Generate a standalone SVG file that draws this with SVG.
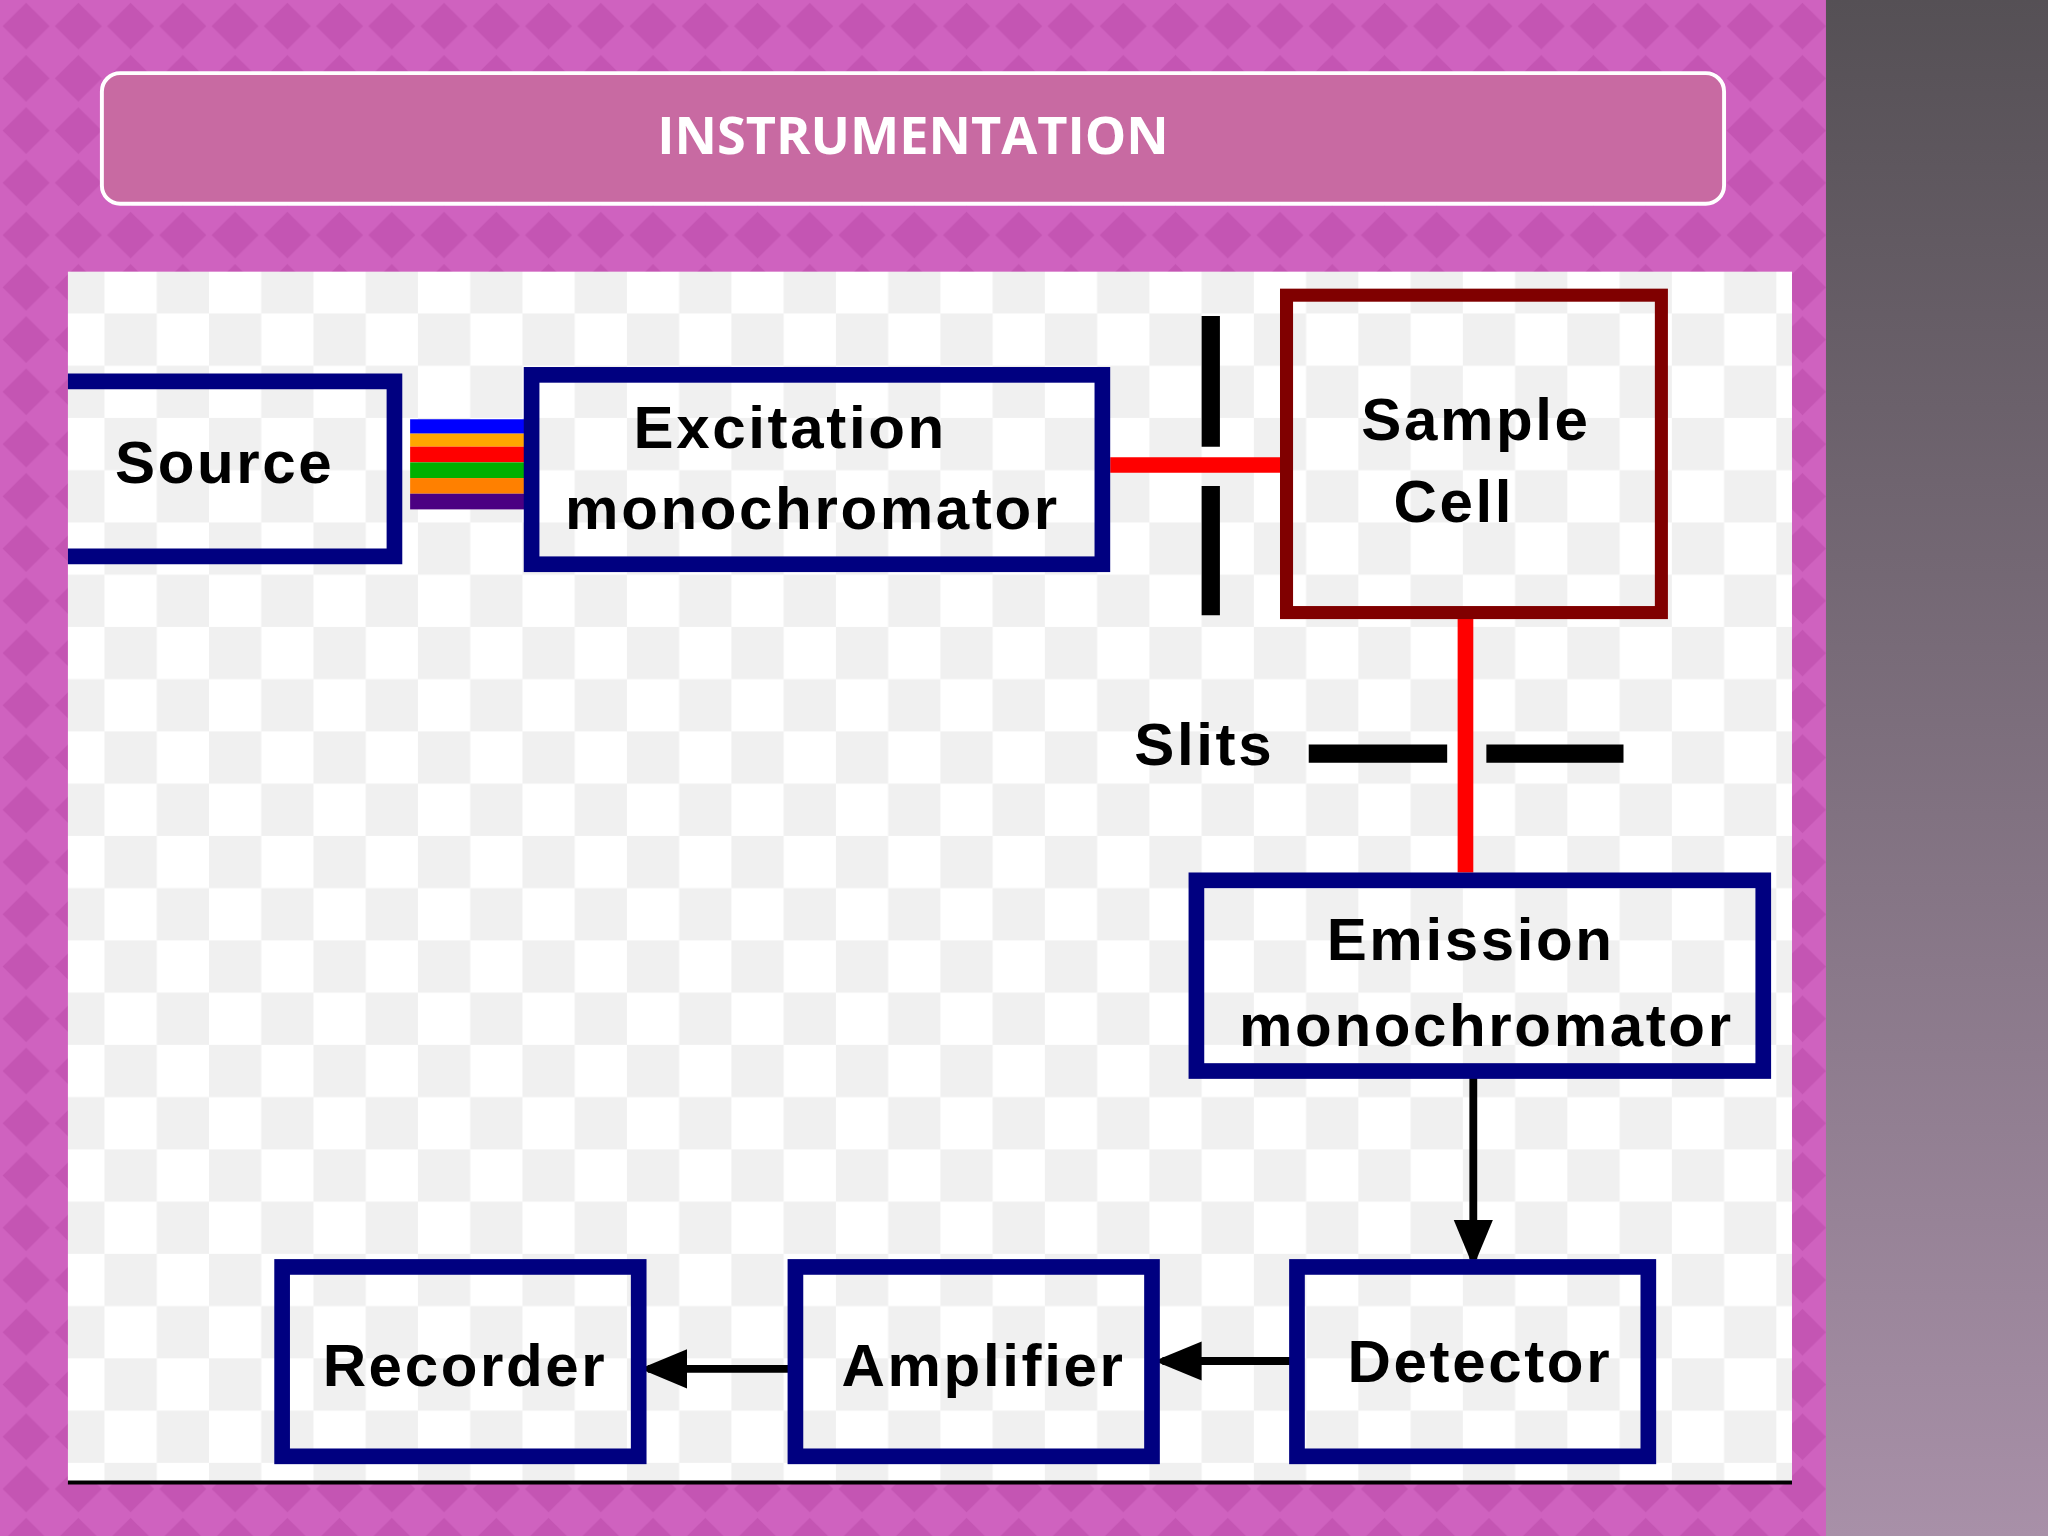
<svg xmlns="http://www.w3.org/2000/svg" width="2048" height="1536" viewBox="0 0 2048 1536">
<defs>
<pattern id="dia" width="40" height="40" patternUnits="userSpaceOnUse"><rect width="40" height="40" fill="#cf62bf"/><path d="M20 2 L38 20 L20 38 L2 20Z" fill="#c455b3"/></pattern>
<pattern id="chk" width="80" height="80" patternUnits="userSpaceOnUse"><rect width="80" height="80" fill="#ffffff"/><rect width="40" height="40" fill="#f0f0f0"/><rect x="40" y="40" width="40" height="40" fill="#f0f0f0"/></pattern>
<linearGradient id="gr" x1="0" y1="0" x2="0" y2="1"><stop offset="0" stop-color="#555055"/><stop offset="1" stop-color="#a890a8"/></linearGradient>
<marker id="ah" markerWidth="6" markerHeight="6" refX="5" refY="3" orient="auto" markerUnits="strokeWidth"><path d="M0 0.5 L6 3 L0 5.5Z" fill="#000"/></marker>
<style>
.box{fill:none;stroke:#000080;stroke-width:12}
.t{font-family:"Liberation Sans",Arial,sans-serif;font-weight:bold;font-size:46px;fill:#000;letter-spacing:2px;text-anchor:middle}
</style>
</defs>
<g transform="scale(1.30612)">
<rect width="1568" height="1176" fill="url(#dia)"/>
<rect x="1398" width="170" height="1176" fill="url(#gr)"/>
<g id="title"><rect x="78" y="56" width="1242" height="100" rx="14" fill="#c86aa2" stroke="#fff" stroke-width="3"/>
<text x="699" y="118" font-family="'Open Sans','Liberation Sans',sans-serif" font-size="40" font-weight="bold" fill="#fff" text-anchor="middle">INSTRUMENTATION</text></g>
<rect x="52" y="208" width="1320" height="927" fill="url(#chk)"/>
<line x1="52" y1="1135" x2="1372" y2="1135" stroke="#000" stroke-width="3"/>
<g id="connectors">
<rect x="314" y="321" width="88" height="11" fill="#0000ff"/>
<rect x="314" y="332" width="88" height="10" fill="#ffa500"/>
<rect x="314" y="342" width="88" height="12" fill="#ff0000"/>
<rect x="314" y="354" width="88" height="12" fill="#00b000"/>
<rect x="314" y="366" width="88" height="12" fill="#ff8000"/>
<rect x="314" y="378" width="88" height="12" fill="#4b0082"/>
<line x1="850" y1="356" x2="982" y2="356" stroke="#ff0000" stroke-width="12"/>
<line x1="927" y1="242" x2="927" y2="342" stroke="#000" stroke-width="14"/>
<line x1="927" y1="372" x2="927" y2="471" stroke="#000" stroke-width="14"/>
<line x1="1122" y1="472" x2="1122" y2="668" stroke="#ff0000" stroke-width="12"/>
<line x1="1002" y1="577" x2="1108" y2="577" stroke="#000" stroke-width="14"/>
<line x1="1138" y1="577" x2="1243" y2="577" stroke="#000" stroke-width="14"/>
<line x1="1128" y1="820" x2="1128" y2="964" stroke="#000" stroke-width="6" marker-end="url(#ah)"/>
<line x1="998" y1="1042" x2="890" y2="1042" stroke="#000" stroke-width="6" marker-end="url(#ah)"/>
<line x1="606" y1="1048" x2="496" y2="1048" stroke="#000" stroke-width="6" marker-end="url(#ah)"/>
</g>
<g id="source"><path d="M52 292 H302 V426 H52" class="box"/><text class="t" x="172" y="370">Source</text></g>
<g id="excitation"><rect x="407" y="287" width="437" height="145" class="box"/><text class="t" x="605" y="343">Excitation</text><text class="t" x="622" y="405">monochromator</text></g>
<g id="sample"><rect x="985" y="226" width="287" height="243" fill="none" stroke="#800000" stroke-width="10"/><text class="t" x="1130" y="337">Sample</text><text class="t" x="1113" y="400">Cell</text></g>
<g id="slits"><text class="t" x="922" y="586">Slits</text></g>
<g id="emission"><rect x="916" y="674" width="434" height="146" class="box"/><text class="t" x="1126" y="735">Emission</text><text class="t" x="1138" y="801">monochromator</text></g>
<g id="detector"><rect x="993" y="970" width="269" height="145" class="box"/><text class="t" x="1133" y="1058">Detector</text></g>
<g id="amplifier"><rect x="609" y="970" width="273" height="145" class="box"/><text class="t" x="753" y="1061">Amplifier</text></g>
<g id="recorder"><rect x="216" y="970" width="273" height="145" class="box"/><text class="t" x="356" y="1061">Recorder</text></g>
</g>
</svg>
